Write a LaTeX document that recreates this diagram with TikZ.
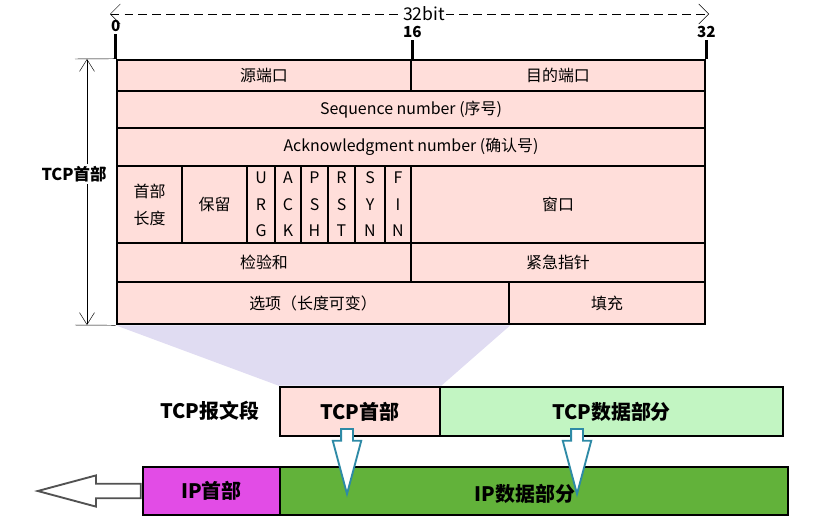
\documentclass[tikz,border=0pt]{standalone}
\usepackage{fontspec}
\setmainfont{Noto Sans CJK SC}
\usetikzlibrary{arrows.meta, shapes.arrows, backgrounds}
\definecolor{hdrpink}{HTML}{FFDEDA}
\definecolor{datagreen}{HTML}{C2F5C2}
\definecolor{trapfill}{HTML}{E0DCF2}
\definecolor{ipmag}{HTML}{E24CE6}
\definecolor{ipgreen}{HTML}{62B23A}
\definecolor{arrowteal}{HTML}{2E8AA6}

\begin{document}
\begin{tikzpicture}[x=0.03cm, y=-0.03cm,
    cell/.style={draw, line width=2.2pt, fill=hdrpink, inner sep=0pt, align=center,
        font=\fontsize{13.6}{23}\selectfont},
    flag/.style={cell, font=\fontsize{13.6}{22.6}\selectfont},
    segbox/.style={draw, line width=2.2pt, inner sep=0pt, minimum height=1.47cm,
        font=\fontsize{17}{20}\selectfont\bfseries},
    ipbox/.style={segbox, minimum height=1.44cm},
    tick/.style={line width=2.2pt},
    bitnum/.style={above, inner sep=1pt, font=\fontsize{13}{15}\selectfont\bfseries},
    dimline/.style={thin, {Straight Barb[length=3.6mm, width=4.5mm]}-{Straight Barb[length=3.6mm, width=4.5mm]}},
    hollow/.style={single arrow, draw, fill=white, line width=1.6pt, inner sep=0pt,
        single arrow tip angle=30, anchor=tail}]
    \useasboundingbox (0,0) rectangle (840,522);
    % header fields, 32 bit per row
    \node[cell, minimum width=8.82cm, minimum height=0.93cm] (src) at (264,75.5) {源端口};
    \node[cell, minimum width=8.82cm, minimum height=0.93cm] (dst) at (558,75.5) {目的端口};
    \node[cell, minimum width=17.64cm, minimum height=1.11cm] (seq) at (411,109.5) {Sequence number (序号)};
    \node[cell, minimum width=17.64cm, minimum height=1.14cm] (ack) at (411,147) {Acknowledgment number (确认号)};
    \node[cell, minimum width=1.95cm, minimum height=2.31cm] (hlen) at (149.5,204.5) {首部\\长度};
    \node[cell, minimum width=1.95cm, minimum height=2.31cm] (resv) at (214.5,204.5) {保留};
    \node[flag, minimum width=0.84cm, minimum height=2.31cm] (urg) at (261,204.5) {U\\R\\G};
    \node[flag, minimum width=0.78cm, minimum height=2.31cm] (ackf) at (288,204.5) {A\\C\\K};
    \node[flag, minimum width=0.81cm, minimum height=2.31cm] (psh) at (314.5,204.5) {P\\S\\H};
    \node[flag, minimum width=0.81cm, minimum height=2.31cm] (rst) at (341.5,204.5) {R\\S\\T};
    \node[flag, minimum width=0.90cm, minimum height=2.31cm] (syn) at (370,204.5) {S\\Y\\N};
    \node[flag, minimum width=0.78cm, minimum height=2.31cm] (fin) at (398,204.5) {F\\I\\N};
    \node[cell, minimum width=8.82cm, minimum height=2.31cm] (win) at (558,204.5) {窗口};
    \node[cell, minimum width=8.82cm, minimum height=1.17cm] (chk) at (264,262.5) {检验和};
    \node[cell, minimum width=8.82cm, minimum height=1.17cm] (urp) at (558,262.5) {紧急指针};
    \node[cell, minimum width=11.76cm, minimum height=1.26cm] (opt) at (313,303) {选项（长度可变）};
    \node[cell, minimum width=5.88cm, minimum height=1.26cm] (pad) at (607,303) {填充};
    % bit scale
    \draw[tick] (src.north west) -- ++(0,-25) node[bitnum] (n0) {0};
    \draw[tick] (src.north east) -- ++(0,-19) node[bitnum] (n16) {16};
    \draw[tick] (dst.north east) -- ++(0,-19) node[bitnum] (n32) {32};
    \coordinate (wl) at (110,14);
    \coordinate (wr) at (709,14);
    \draw[thin, dash pattern=on 7.6pt off 4.3pt,
        {Straight Barb[length=3mm, width=6mm]}-{Straight Barb[length=3mm, width=6mm]}] (wl) -- (wr);
    \node[fill=white, inner sep=1pt, font=\fontsize{15}{18}\selectfont] (w32) at (424,14) {32bit};
    % header height
    \coordinate (htop) at (87,59);
    \coordinate (hbot) at (87,325);
    \draw[thin] (75,59) -- (src.north west);
    \draw[thin] (75,325) -- (opt.south west);
    \draw[dimline] (htop) -- (hbot);
    \node[fill=white, inner sep=2pt, font=\fontsize{14}{16}\selectfont\bfseries] (hdrlbl) at (74,174) {TCP首部};
    % segment and datagram
    \node[segbox, fill=hdrpink, minimum width=4.8cm] (tcph) at (360,411.5) {TCP首部};
    \node[segbox, fill=datagreen, minimum width=10.29cm] (tcpd) at (611.5,411.5) {TCP数据部分};
    \node[font=\fontsize{17}{20}\selectfont\bfseries] (seglbl) at (210,411) {TCP报文段};
    \node[ipbox, fill=ipmag, minimum width=4.11cm] (iph) at (211.5,491) {IP首部};
    \node[ipbox, fill=ipgreen, minimum width=15.24cm] (ipd) at (534,491) {};
    \node[font=\fontsize{17}{20}\selectfont\bfseries] (ipdlbl) at (525,494) {IP数据部分};
    \begin{scope}[on background layer]
        \fill[trapfill] (opt.south west) -- (opt.south east) -- (tcph.north east) -- (tcph.north west) -- cycle;
    \end{scope}
    % hollow arrows
    \node[hollow, draw=arrowteal, inner ysep=0.15cm, minimum height=1.95cm, minimum width=0.52cm,
        rotate=-90] (hdrdown) at (347,428) {};
    \node[hollow, draw=arrowteal, inner ysep=0.15cm, minimum height=1.95cm, minimum width=0.52cm,
        rotate=-90] (datadown) at (577,428) {};
    \node[hollow, draw=black!68, inner ysep=0.19cm, minimum height=3.09cm, minimum width=0.78cm,
        rotate=180] (ipleft) at (iph.west) {};
\end{tikzpicture}
\end{document}
